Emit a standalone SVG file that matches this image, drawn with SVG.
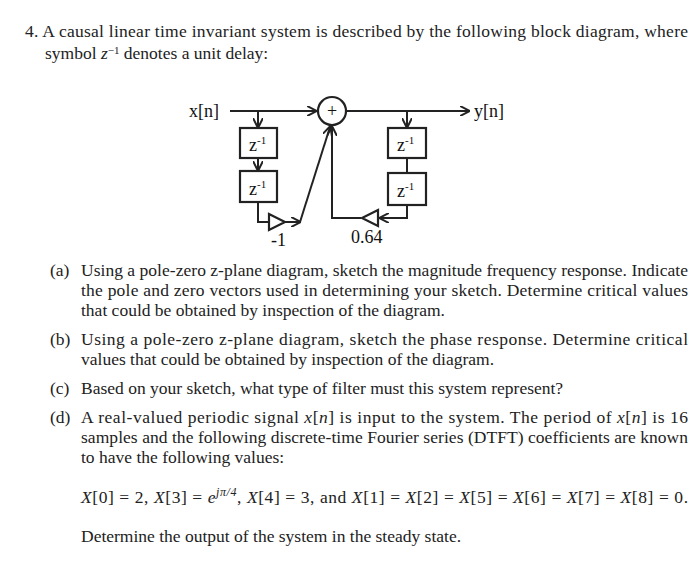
<svg xmlns="http://www.w3.org/2000/svg" width="700" height="579" viewBox="0 0 700 579">
<defs>
<style>
text{font-family:"Liberation Serif","DejaVu Serif",serif;font-size:17.5px;fill:#222}
.d{font-size:18px;fill:#111}
.l{stroke:#222;stroke-width:2;fill:none}
.b{stroke:#222;stroke-width:2.2;fill:#fff}
</style>
<marker id="a" viewBox="0 0 10 10" refX="9" refY="5" markerWidth="5" markerHeight="5" orient="auto"><path d="M0,0 L10,5 L0,10" fill="none" stroke="#222" stroke-width="2"/></marker>
</defs>
<rect width="700" height="579" fill="#fff"/>
<text x="25" y="37" textLength="663" lengthAdjust="spacing">4. A causal linear time invariant system is described by the following block diagram, where</text>
<text x="45" y="59">symbol <tspan font-style="italic">z</tspan><tspan font-size="11" dy="-5">−1</tspan><tspan dy="5"> denotes a unit delay:</tspan></text>
<g id="connectors" class="l">
<path d="M230,111 H316" marker-end="url(#a)"/>
<path d="M346,111 H469" marker-end="url(#a)"/>
<path d="M258,111 V127" marker-end="url(#a)"/>
<path d="M258,158 V170" marker-end="url(#a)"/>
<path d="M258,202 V222 H268"/>
<path d="M285,222 H300" marker-end="url(#a)"/>
<path d="M300,222 L330,127" marker-end="url(#a)"/>
<path d="M407,111 V127" marker-end="url(#a)"/>
<path d="M407,158 V173"/>
<path d="M407,205 V218 H380" marker-end="url(#a)"/>
<path d="M361,218 H332 V127" marker-end="url(#a)"/>
</g>
<g id="sum"><circle cx="332" cy="111" r="14" class="b"/><text x="332" y="117" text-anchor="middle" class="d">+</text></g>
<g id="xin"><text x="189" y="117" class="d">x[n]</text></g>
<g id="yout"><text x="474" y="117" class="d">y[n]</text></g>
<g id="z1"><rect x="240" y="128" width="37" height="30" class="b"/><text x="249" y="151" class="d">z<tspan font-size="11" dy="-7">-1</tspan></text></g>
<g id="z2"><rect x="240" y="171" width="37" height="31" class="b"/><text x="249" y="195" class="d">z<tspan font-size="11" dy="-7">-1</tspan></text></g>
<g id="z3"><rect x="388" y="128" width="38" height="30" class="b"/><text x="397" y="151" class="d">z<tspan font-size="11" dy="-7">-1</tspan></text></g>
<g id="z4"><rect x="388" y="173" width="38" height="32" class="b"/><text x="397" y="197" class="d">z<tspan font-size="11" dy="-7">-1</tspan></text></g>
<g id="g1"><path d="M269,214 L285,222 L269,230 Z" class="b" stroke-width="1.5"/><text x="271" y="246" class="d">-1</text></g>
<g id="g2"><path d="M378,210 L362,218 L378,226 Z" class="b" stroke-width="1.5"/><text x="351" y="243" class="d">0.64</text></g>
<text x="50" y="276">(a)</text>
<text x="81" y="276" textLength="607" lengthAdjust="spacing">Using a pole-zero z-plane diagram, sketch the magnitude frequency response. Indicate</text>
<text x="81" y="296" textLength="607" lengthAdjust="spacing">the pole and zero vectors used in determining your sketch. Determine critical values</text>
<text x="81" y="316">that could be obtained by inspection of the diagram.</text>
<text x="50" y="345">(b)</text>
<text x="81" y="345" textLength="607" lengthAdjust="spacing">Using a pole-zero z-plane diagram, sketch the phase response. Determine critical</text>
<text x="81" y="365">values that could be obtained by inspection of the diagram.</text>
<text x="50" y="394">(c)</text>
<text x="81" y="394">Based on your sketch, what type of filter must this system represent?</text>
<text x="50" y="423">(d)</text>
<text x="81" y="423" textLength="607" lengthAdjust="spacing">A real-valued periodic signal <tspan font-style="italic">x</tspan>[<tspan font-style="italic">n</tspan>] is input to the system. The period of <tspan font-style="italic">x</tspan>[<tspan font-style="italic">n</tspan>] is 16</text>
<text x="81" y="443" textLength="607" lengthAdjust="spacing">samples and the following discrete-time Fourier series (DTFT) coefficients are known</text>
<text x="81" y="463">to have the following values:</text>
<text x="81" y="503" textLength="607" lengthAdjust="spacing"><tspan font-style="italic">X</tspan>[0] = 2, <tspan font-style="italic">X</tspan>[3] = <tspan font-style="italic">e</tspan><tspan font-size="12" dy="-7" font-style="italic">jπ/4</tspan><tspan dy="7">, </tspan><tspan font-style="italic">X</tspan>[4] = 3, and <tspan font-style="italic">X</tspan>[1] = <tspan font-style="italic">X</tspan>[2] = <tspan font-style="italic">X</tspan>[5] = <tspan font-style="italic">X</tspan>[6] = <tspan font-style="italic">X</tspan>[7] = <tspan font-style="italic">X</tspan>[8] = 0.</text>
<text x="81" y="542">Determine the output of the system in the steady state.</text>
</svg>
